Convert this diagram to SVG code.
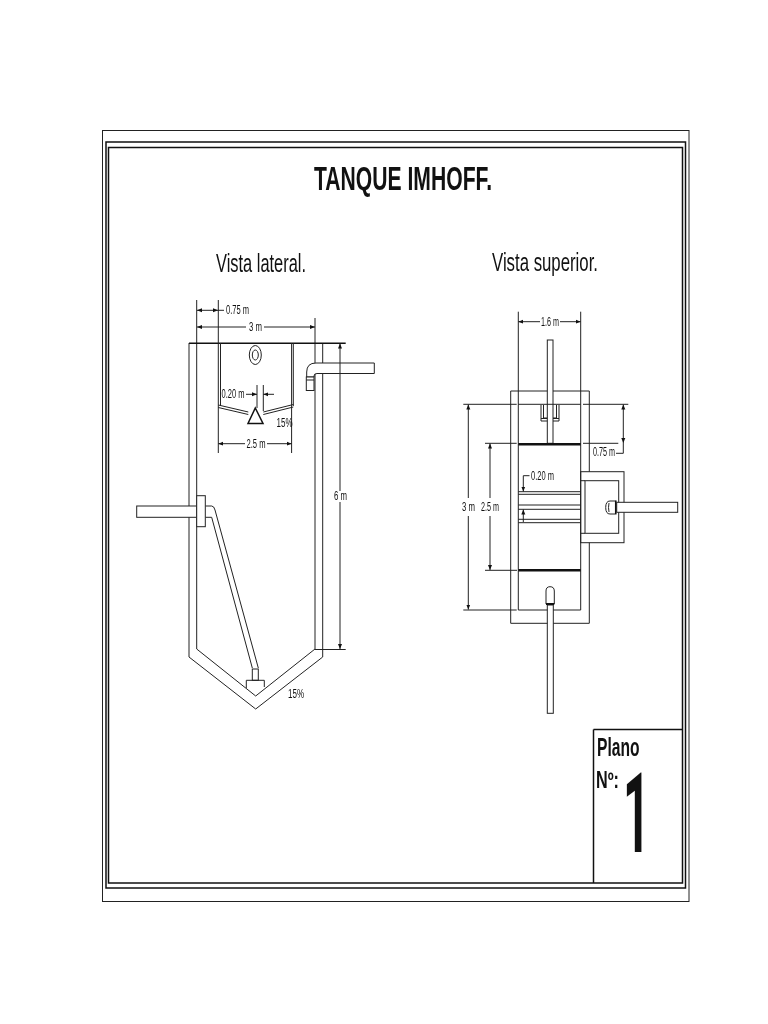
<svg xmlns="http://www.w3.org/2000/svg" width="768" height="1024" viewBox="0 0 768 1024">
<style>
.l{fill:none;stroke:#222;stroke-width:1}
.m{fill:none;stroke:#111;stroke-width:1.5}
.h{fill:none;stroke:#111;stroke-width:2.5}
.d{fill:none;stroke:#222;stroke-width:1}
.da{fill:none;stroke:#222;stroke-width:1;marker-end:url(#a)}
.db{fill:none;stroke:#222;stroke-width:1;marker-start:url(#a);marker-end:url(#a)}
.p{fill:#fff;stroke:#222;stroke-width:1}
text{font-family:"Liberation Sans",Arial,sans-serif;fill:#111}
.s{font-size:12px}
.v{font-size:26px}
.b{font-weight:bold}
</style>
<defs>
<marker id="a" markerUnits="userSpaceOnUse" markerWidth="6" markerHeight="6" refX="5" refY="2.5" orient="auto-start-reverse"><path d="M0,0.5L5,2.5L0,4.5z" fill="#111"/></marker>
<filter id="soft" filterUnits="userSpaceOnUse" x="0" y="0" width="768" height="1024" color-interpolation-filters="sRGB"><feGaussianBlur stdDeviation="0.3"/></filter>
</defs>
<rect width="768" height="1024" fill="#fff"/>
<g filter="url(#soft)">
<g id="frame">
<rect x="102.5" y="130.5" width="586.5" height="771" class="l"/>
<rect x="106" y="142" width="579.5" height="746" class="m"/>
<rect x="108.5" y="147.5" width="574" height="735.5" class="m"/>
<line x1="593.5" y1="729.5" x2="682.5" y2="729.5" class="m"/>
<line x1="593.5" y1="729.5" x2="593.5" y2="883" class="m"/>
</g>
<g id="titles">
<text x="314" y="190" font-size="34" class="b" textLength="178" lengthAdjust="spacingAndGlyphs">TANQUE IMHOFF.</text>
<text x="216" y="272" class="v" textLength="90" lengthAdjust="spacingAndGlyphs">Vista lateral.</text>
<text x="492" y="271" class="v" textLength="106" lengthAdjust="spacingAndGlyphs">Vista superior.</text>
<text x="597" y="756" font-size="25" class="b" textLength="42.5" lengthAdjust="spacingAndGlyphs">Plano</text>
<text x="596" y="788" font-size="23" class="b" textLength="23" lengthAdjust="spacingAndGlyphs">Nº:</text>
<text x="623" y="852" font-size="111" class="b" style="font-family:Roboto,'Liberation Sans',sans-serif" textLength="27" lengthAdjust="spacingAndGlyphs">1</text>
</g>
<g id="vista-lateral">
<path class="l" d="M189,343V657L255.7,709L322.7,657V343"/>
<path class="l" d="M196.7,300V649L255.7,696L315,649V318"/>
<line x1="189" y1="343.3" x2="345.7" y2="343.3" class="m"/>
<line x1="218.3" y1="300" x2="218.3" y2="453" class="l"/>
<line x1="220.5" y1="343" x2="220.5" y2="406" class="l"/>
<line x1="291.6" y1="343" x2="291.6" y2="453" class="l"/>
<line x1="293.3" y1="343" x2="293.3" y2="406" class="l"/>
<path class="l" d="M218.3,405L248.3,412M218.3,407.5L248.3,414.5"/>
<path class="l" d="M263.3,412L293.3,404.5M263.3,414.5L293.3,407"/>
<ellipse cx="255.3" cy="355" rx="6" ry="9.5" class="l"/>
<ellipse cx="255.3" cy="355" rx="3" ry="5" class="l"/>
<path class="m" d="M255.3,408L263,423.5H248Z"/>
<path class="l" d="M257,385V408M263.3,385V411"/>
<path class="p" d="M374.3,363H316Q306.7,363 306.7,372V377H314V376Q314,373.5 317,373.5H374.3Z"/>
<rect x="306.3" y="377" width="7.7" height="13.5" class="p"/>
<line x1="306.3" y1="380" x2="314" y2="380" class="l"/>
<rect x="136.7" y="506" width="60" height="11.3" class="p"/>
<path class="l" d="M205.3,506H211.7Q214,506 215,510L258.3,668M205.3,517.3H211.7L252.3,668"/>
<rect x="196.7" y="495.7" width="8.6" height="31" class="p"/>
<rect x="252.3" y="669" width="6" height="11.3" class="p"/>
<path class="l" d="M246.3,688V680.3H264.3V687"/>
</g>
<g id="cotas-lateral">
<line x1="218" y1="310.3" x2="224" y2="310.3" class="d"/>
<line x1="197" y1="310.3" x2="218" y2="310.3" class="db"/>
<line x1="246" y1="327" x2="197" y2="327" class="da"/>
<line x1="264" y1="327" x2="315" y2="327" class="da"/>
<line x1="246" y1="394.3" x2="257" y2="394.3" class="da"/>
<line x1="274" y1="394.3" x2="263.3" y2="394.3" class="da"/>
<line x1="245" y1="443.7" x2="218.3" y2="443.7" class="da"/>
<line x1="267" y1="443.7" x2="291.6" y2="443.7" class="da"/>
<line x1="340" y1="491" x2="340" y2="343.5" class="da"/>
<line x1="340" y1="502" x2="340" y2="649" class="da"/>
<line x1="315" y1="649.5" x2="345.7" y2="649.5" class="l"/>
<text x="226" y="314" class="s" textLength="23" lengthAdjust="spacingAndGlyphs">0.75 m</text>
<text x="249" y="331" class="s" textLength="13" lengthAdjust="spacingAndGlyphs">3 m</text>
<text x="221.5" y="398" class="s" textLength="23" lengthAdjust="spacingAndGlyphs">0.20 m</text>
<text x="276.5" y="427" class="s" textLength="16" lengthAdjust="spacingAndGlyphs">15%</text>
<text x="246.5" y="448" class="s" textLength="19" lengthAdjust="spacingAndGlyphs">2.5 m</text>
<text x="334" y="500" class="s" textLength="13" lengthAdjust="spacingAndGlyphs">6 m</text>
<text x="288" y="698" class="s" textLength="16" lengthAdjust="spacingAndGlyphs">15%</text>
</g>
<g id="vista-superior">
<path class="l" d="M510.7,623.3V391H589.3V471.7M589.3,542.7V623.3H510.7"/>
<path class="l" d="M518.3,311.7V610H580.7V311.7"/>
<rect x="580.7" y="471.7" width="43.3" height="71" class="l"/>
<rect x="585" y="480.7" width="33.7" height="52.6" class="l"/>
<line x1="580.7" y1="480.7" x2="585" y2="480.7" class="l"/>
<line x1="580.7" y1="533.3" x2="585" y2="533.3" class="l"/>
<path class="l" d="M541,405V421H559V405M543.5,405V418H556.5V405M541,418.5H559"/>
<rect x="547.3" y="340" width="5.7" height="103.3" class="p"/>
<line x1="518.3" y1="444.3" x2="580.7" y2="444.3" class="h"/>
<line x1="518.3" y1="570.3" x2="580.7" y2="570.3" class="h"/>
<path class="l" d="M518.3,491.7H580.7M518.3,494.3H580.7M518.3,505H580.7M518.3,509.3H580.7M518.3,519.3H580.7M518.3,522.7H580.7"/>
<path class="l" d="M616.5,501H610Q605.7,501 605.7,507.5Q605.7,514 610,514H616.5M609,503Q608,507.5 609,512"/>
<rect x="616.7" y="502.3" width="61" height="10" class="p"/>
<line x1="615.7" y1="500.7" x2="615.7" y2="514" class="m"/>
<path class="l" d="M546,604V591Q546,586.7 550,586.7Q554.3,586.7 554.3,591V604"/>
<rect x="547.3" y="605" width="6" height="108.3" class="p"/>
<line x1="546" y1="604" x2="554.3" y2="604" class="h" style="stroke-width:2"/>
</g>
<g id="cotas-superior">
<path class="l" d="M463.3,404.3H516.7M518.3,404.3H580.7M583,404.3H628.3"/>
<path class="l" d="M485,443.3H516.7M583,443.3H618.3"/>
<path class="l" d="M463.3,610H516.7M485,570.3H517"/>
<line x1="540" y1="321.7" x2="518.3" y2="321.7" class="da"/>
<line x1="560" y1="321.7" x2="580.7" y2="321.7" class="da"/>
<line x1="623.3" y1="425" x2="623.3" y2="404.5" class="da"/>
<line x1="623.3" y1="425" x2="623.3" y2="443" class="da"/>
<path class="l" d="M623.3,443V453.3H616"/>
<line x1="468.3" y1="498" x2="468.3" y2="404.5" class="da"/>
<line x1="468.3" y1="516" x2="468.3" y2="609.5" class="da"/>
<line x1="490" y1="498" x2="490" y2="443.5" class="da"/>
<line x1="490" y1="516" x2="490" y2="570" class="da"/>
<path class="da" d="M529.5,475.7H523.3V491.5"/>
<line x1="523.3" y1="522" x2="523.3" y2="509.5" class="da"/>
<text x="541" y="325.5" class="s" textLength="18" lengthAdjust="spacingAndGlyphs">1.6 m</text>
<text x="593" y="456" class="s" textLength="22" lengthAdjust="spacingAndGlyphs">0.75 m</text>
<text x="531" y="479.5" class="s" textLength="23" lengthAdjust="spacingAndGlyphs">0.20 m</text>
<text x="462" y="511" class="s" textLength="13" lengthAdjust="spacingAndGlyphs">3 m</text>
<text x="481" y="511" class="s" textLength="18" lengthAdjust="spacingAndGlyphs">2.5 m</text>
</g>
</g>
</svg>
